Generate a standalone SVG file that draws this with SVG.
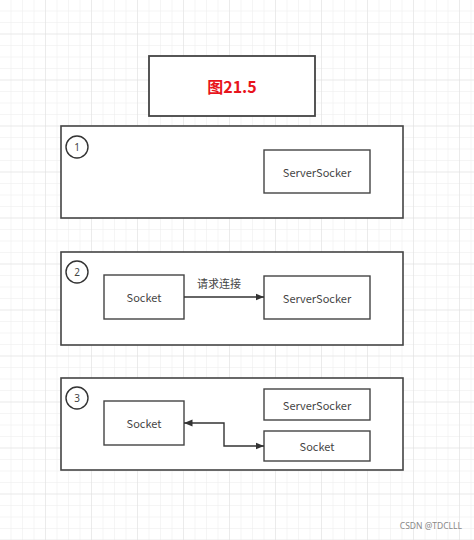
<svg xmlns="http://www.w3.org/2000/svg" width="474" height="540" viewBox="0 0 474 540">
<defs>
<pattern id="minor" width="11.5" height="11.5" patternUnits="userSpaceOnUse" x="0" y="0">
<path d="M11.5 0V11.5M0 11.5H11.5" fill="none" stroke="#ececec" stroke-width="1"/>
</pattern>
<pattern id="major" width="46" height="46" patternUnits="userSpaceOnUse" x="0" y="-11.5">
<path d="M46 0V46M0 46H46" fill="none" stroke="#e0e0e0" stroke-width="1"/>
</pattern>
<marker id="arr" viewBox="0 0 10 10" refX="10" refY="5" markerWidth="8.5" markerHeight="8.5" orient="auto-start-reverse" markerUnits="userSpaceOnUse">
<path d="M0 1L10 5L0 9Z" fill="#333"/>
</marker>
</defs>
<style>
.box{fill:#fff;stroke:#444;stroke-width:1.4}
.panel{fill:#fff;stroke:#444;stroke-width:1.6}
.lbl{font-family:"Microsoft YaHei","Noto Sans CJK SC","Noto Sans",sans-serif;font-size:11px;fill:#444;text-anchor:middle;dominant-baseline:central}
.num{font-family:"Noto Sans",sans-serif;font-size:10px;fill:#444;text-anchor:middle;dominant-baseline:central}
.circ{fill:#fff;stroke:#333;stroke-width:1.4}
.conn{fill:none;stroke:#333;stroke-width:1.4}
</style>
<rect width="474" height="540" fill="#fff"/>
<rect width="474" height="540" fill="url(#minor)"/>
<rect width="474" height="540" fill="url(#major)"/>
<g id="title">
<rect class="box" x="149" y="56" width="166" height="60" style="stroke-width:1.8"/>
<text x="232" y="86" style="font-family:'Noto Sans CJK SC','Noto Sans',sans-serif;font-size:16px;font-weight:bold;fill:#e8141c;text-anchor:middle;dominant-baseline:central">图21.5</text>
</g>
<g id="panel1">
<rect class="panel" x="61" y="126" width="342" height="92"/>
<circle class="circ" cx="77" cy="147" r="11"/>
<text class="num" x="77" y="147">1</text>
</g>
<g id="p1-server">
<rect class="box" x="264" y="150" width="106" height="43"/>
<text class="lbl" x="317" y="172">ServerSocker</text>
</g>
<g id="panel2">
<rect class="panel" x="61" y="252" width="342" height="93"/>
<circle class="circ" cx="77" cy="272" r="11"/>
<text class="num" x="77" y="272">2</text>
</g>
<g id="p2-socket">
<rect class="box" x="104" y="275" width="80" height="44"/>
<text class="lbl" x="144" y="297">Socket</text>
</g>
<g id="p2-server">
<rect class="box" x="264" y="276" width="106" height="43"/>
<text class="lbl" x="317" y="298">ServerSocker</text>
</g>
<g id="panel3">
<rect class="panel" x="61" y="378" width="342" height="92"/>
<circle class="circ" cx="77" cy="398" r="11"/>
<text class="num" x="77" y="398">3</text>
</g>
<g id="p3-socket-left">
<rect class="box" x="104" y="401" width="80" height="44"/>
<text class="lbl" x="144" y="423">Socket</text>
</g>
<g id="p3-server">
<rect class="box" x="264" y="389" width="106" height="31"/>
<text class="lbl" x="317" y="405">ServerSocker</text>
</g>
<g id="p3-socket-right">
<rect class="box" x="264" y="431" width="106" height="30"/>
<text class="lbl" x="317" y="446">Socket</text>
</g>
<g id="connectors">
<path class="conn" d="M184 297H264" marker-end="url(#arr)"/>
<text class="lbl" x="219" y="283">请求连接</text>
<path class="conn" d="M184 423H224V446H264" marker-start="url(#arr)" marker-end="url(#arr)"/>
</g>
<text x="462" y="529" style="font-family:'Noto Sans',sans-serif;font-size:8.5px;fill:#888;text-anchor:end">CSDN @TDCLLL</text>
</svg>
